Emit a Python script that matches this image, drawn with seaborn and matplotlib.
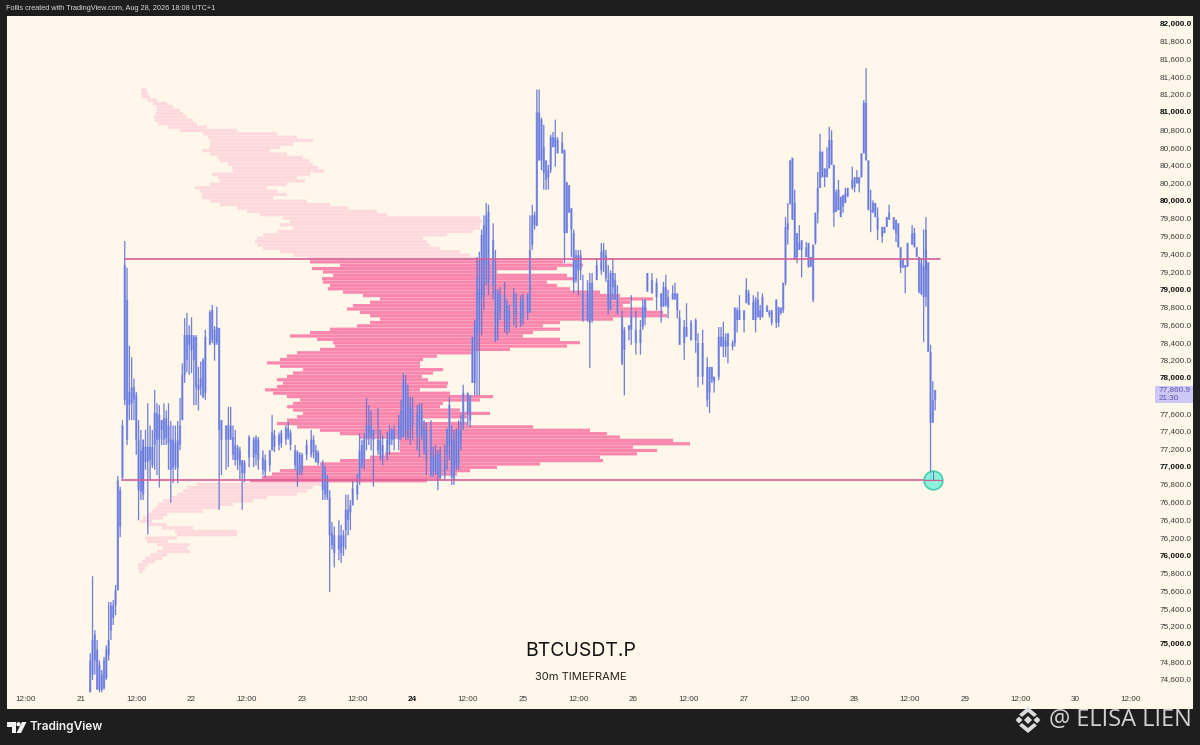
import numpy as np
import matplotlib
matplotlib.use("Agg")
import matplotlib.pyplot as plt
from matplotlib.patches import Polygon, Rectangle, Circle
import seaborn as sns

# 30m candles, slot 0 = day 21 00:00
bar_slot = [4,5,6,7,8,9,10,11,12,13,14,15,16,17,18,19,20,21,22,23,
    24,25,26,27,27,28,29,30,31,32,33,34,35,36,37,38,39,40,41,42,
    43,44,45,46,47,48,49,50,51,52,53,54,56,57,58,59,60,61,63,64,
    65,66,67,68,69,70,71,73,75,76,77,79,80,82,83,84,86,87,89,90,
    91,93,94,95,96,98,100,101,102,103,105,106,107,108,109,110,112,113,114,115,
    116,117,118,120,121,122,123,124,125,126,127,129,130,131,133,134,135,136,138,139,
    140,141,142,143,144,146,147,148,149,150,152,153,154,155,156,158,159,160,161,162,
    163,164,165,166,168,169,170,171,172,173,174,175,176,177,179,180,181,182,184,185,
    186,188,189,191,192,194,195,196,197,198,199,200,201,202,203,204,205,206,207,209,
    210,211,212,213,214,215,216,217,218,220,221,222,224,226,227,228,229,230,231,232,
    233,235,236,238,239,241,243,244,245,246,248,250,252,253,254,255,257,258,259,260,
    262,263,265,267,268,270,272,273,274,275,277,278,279,280,281,283,284,285,286,288,
    289,290,292,293,294,295,296,298,299,300,302,303,304,305,306,307,308,309,310,311,
    312,313,315,316,317,318,319,320,321,322,323,324,325,326,327,328,329,330,331,332,
    333,335,336,337,338,339,340,341,342,343,344,345,346,348,349,350,351,353,354,355,
    356,357,358,359,361,362,363,364,365,366,367,367,368,369,370,371]

bar_high = [74890,75760,75150,75040,74810,74700,74850,74980,75470,75470,75490,75660,76890,76770,77520,79540,79240,78360,78230,77990,
    77840,77520,77410,77300,77300,77410,77710,77460,77410,77860,77710,77690,77520,77710,77630,77710,77510,77460,77460,77510,
    77770,78160,78670,78730,78590,78680,78480,78480,78120,78180,78220,78540,78760,78820,78580,78800,78560,77520,77460,77670,
    77670,77460,77410,77240,77220,77070,77070,77350,77330,77350,77330,77180,77130,77180,77580,77410,77380,77410,77460,77500,
    77410,77240,77180,77160,77150,77300,77410,77350,77240,77180,77070,77010,76900,76730,76370,76320,76390,76340,76280,76680,
    76680,76620,76840,76920,77370,77300,77370,77770,77690,77630,77410,77660,77410,77350,77390,77460,77430,77460,77580,77750,
    78050,78030,77920,77780,77780,77690,77710,77710,77520,77490,77520,77220,77240,77180,77220,77240,77430,77780,77460,77410,
    77430,77520,77580,77920,77830,77800,78460,78650,79360,79420,79670,79830,79970,79950,79740,79440,78990,79020,79080,78880,
    78820,79010,78950,78930,78950,78950,79830,79950,79870,81250,81250,80930,80850,80450,80400,80740,80770,80910,80710,80770,
    80570,80210,80170,79910,79670,79440,79440,79440,79160,79100,79180,79180,79350,79520,79520,79440,79270,79210,79350,79180,
    79040,78760,78570,78590,78930,78760,78650,78880,78880,79180,79180,79120,78950,79080,79160,78990,79040,79070,78950,78760,
    78650,78840,78650,78670,78500,78540,78230,78120,78120,78010,78570,78570,78630,78500,78500,78420,78790,78790,78930,78760,
    79120,78990,78930,78910,78970,78820,78950,78820,78760,78760,78880,78800,78790,79070,79810,79970,80450,80480,80120,79630,
    79720,79550,79530,79520,79360,79500,79860,80320,80750,80550,80360,80600,80830,80790,80400,80120,80230,80040,80060,80140,
    80140,80380,80260,80340,80260,80530,81130,81490,80450,80120,80000,79970,79920,79700,79700,79810,79950,79810,79780,79740,
    79470,79330,79270,79520,79720,79690,79470,79360,79350,79670,79670,79810,79300,78370,77960,77860]

bar_low = [74450,74590,74650,74480,74450,74450,74480,74590,74810,75040,75210,75320,75600,76200,76840,77690,77240,77520,77520,77520,
    77130,76390,76620,76620,76730,76960,76230,76840,76980,76960,76900,76760,77240,77240,77240,76960,76590,76810,76960,76810,
    77180,77520,77940,78060,78030,78050,77690,77690,77630,77800,77770,77750,78370,78390,78190,78370,76510,76900,76960,76990,
    77300,77070,77010,76960,76840,76510,76820,76990,76990,77010,76960,76900,76870,76940,77180,77160,77180,77210,77240,77300,
    77180,76960,76770,76900,76900,77070,77100,77090,77040,77010,76620,76620,76620,75580,76060,75860,75940,75910,75990,76060,
    76220,76280,76560,76620,76790,76980,76960,77180,77240,77180,76770,77130,77070,77010,77070,77130,77240,77180,77180,77300,
    77330,77300,77300,77240,77300,77180,77100,77300,77130,76900,76880,76880,76900,76730,76840,76840,76960,77070,76790,76790,
    76960,76960,77180,77410,77460,77440,77940,77800,77800,77800,78480,78760,79040,78930,78880,78400,78420,78650,78510,78480,
    78510,78590,78560,78570,78590,78650,78730,79440,79670,79710,80450,80340,80120,80120,80120,80310,80600,80380,80530,80530,
    79290,79630,79860,79360,78950,79070,78930,79100,78630,78630,78110,78620,79100,79160,79190,79080,78710,78760,78880,78880,
    78710,78140,77800,78420,78370,78260,78260,78540,78590,78970,78950,78760,78620,78800,78800,78670,78880,78880,78670,78370,
    78200,78460,78420,78280,77890,77920,77670,77600,77940,77830,77970,78350,78230,78230,78160,78310,78350,78510,78650,78510,
    78840,78820,78650,78510,78680,78650,78680,78740,78680,78590,78560,78570,78710,78730,79040,79500,79950,79780,79330,79290,
    79440,79130,79360,79240,79250,78850,79500,79740,80140,80260,80150,80260,80360,80400,79700,79870,79890,79810,79860,79970,
    80040,80120,80090,80190,80090,80260,80530,80450,79890,79640,79860,79810,79550,79520,79630,79700,79780,79670,79530,79470,
    79180,79240,78950,79250,79500,79470,79360,78950,78930,78400,78800,79210,78290,76840,77490,77630]

bar_top = [74810,75040,75100,74930,74760,74650,74810,74930,75040,75430,75430,75600,76840,76730,77460,79270,78880,77840,77890,77890,
    77800,77300,77180,76960,77220,77220,77220,77220,77220,77600,77600,77580,77520,77540,77540,77460,77300,77300,77270,77300,
    77460,78030,78480,78480,78480,78480,78460,78460,77920,77990,78200,78460,78740,78760,78540,78570,78560,77520,77460,77460,
    77460,77330,77240,77210,77180,77070,77040,77330,77300,77320,77300,77100,77070,77180,77380,77350,77350,77380,77430,77430,
    77380,77180,77160,77130,77130,77240,77300,77300,77180,77160,77040,76960,76880,76650,76250,76220,76220,76220,76220,76510,
    76510,76560,76750,76790,77180,77240,77300,77460,77460,77460,77410,77300,77300,77240,77300,77390,77410,77410,77460,77630,
    77970,77940,77800,77670,77630,77580,77670,77630,77440,77410,77410,77100,77130,77130,77160,77070,77410,77690,77300,77300,
    77390,77410,77410,77830,77830,77800,78460,78590,79130,78990,79610,79720,79830,79870,79550,78990,78950,78950,78930,78820,
    78760,78950,78820,78880,78880,78930,79440,79830,79830,80990,80990,80910,80600,80450,80340,80710,80710,80710,80680,80650,
    80570,80200,80170,79910,79630,79380,79380,79380,78950,78950,79070,79070,79270,79420,79440,79380,79100,79180,79180,79100,
    78910,78680,78540,78590,78730,78540,78540,78800,78880,79180,79100,79070,78950,79020,79020,78910,78950,78950,78950,78680,
    78570,78570,78620,78650,78390,78390,78120,78120,78120,78010,78460,78460,78460,78420,78500,78390,78790,78760,78760,78760,
    78990,78950,78850,78880,78880,78760,78910,78800,78740,78760,78880,78790,78790,79070,79700,79740,80450,80480,79970,79630,
    79520,79550,79470,79520,79360,79500,79860,80140,80550,80550,80360,80360,80680,80680,80400,80090,80120,80040,80060,80080,
    80140,80230,80260,80260,80260,80530,81100,81100,80450,79890,79970,79970,79810,79700,79700,79810,79860,79810,79780,79740,
    79470,79330,79270,79520,79630,79630,79470,79360,79290,79250,79270,79440,79300,78290,77750,77860]

bar_bottom = [74450,74650,74810,74480,74480,74480,74500,74610,74870,75150,75290,75430,75600,76320,76870,77750,77300,77690,77710,77750,
    77300,76730,76710,76680,76960,77050,77050,77070,77010,77240,77300,77300,77410,77300,77320,77260,76960,76980,77010,76980,
    77240,77520,78030,78200,78370,78310,78200,77890,77860,77890,77780,77830,78370,78420,78370,78390,77410,77300,77300,77300,
    77300,77130,77070,77070,77010,76920,76920,77100,77100,77130,77070,76960,76940,77010,77180,77220,77240,77260,77300,77320,
    77240,77010,76920,76960,76940,77130,77130,77160,77050,77040,76730,76680,76650,76220,76110,76020,76060,76020,76090,76280,
    76390,76480,76560,76680,76840,77010,77070,77300,77350,77330,77300,77180,77130,77090,77160,77240,77300,77300,77300,77330,
    77330,77410,77330,77410,77460,77330,77460,77350,77180,77070,76900,76940,76940,76900,76870,76900,77130,77240,76880,76840,
    77010,77010,77270,77460,77600,77520,77940,77940,78480,78540,78880,78930,79270,79070,79040,78420,78590,78740,78650,78540,
    78650,78800,78710,78620,78670,78730,78740,79500,79720,79710,80450,80450,80310,80230,80260,80340,80600,80600,80530,80530,
    79630,79630,79860,79670,79070,79100,79210,79210,78650,78650,78620,78650,79100,79210,79330,79120,78790,78760,79020,78880,
    78730,78160,78310,78540,78540,78390,78390,78570,78680,78970,78950,78910,78800,78800,78820,78790,78880,78880,78760,78370,
    78390,78460,78420,78420,78010,78010,77750,77830,77970,77950,78010,78350,78350,78350,78350,78350,78390,78650,78650,78650,
    78840,78820,78650,78650,78680,78680,78680,78740,78710,78620,78620,78620,78730,78760,79070,79670,79970,79780,79330,79360,
    79440,79440,79360,79250,79250,78880,79520,79860,80140,80260,80260,80260,80360,80400,79860,79870,79890,79810,79930,79970,
    80040,80140,80150,80190,80190,80260,80530,80450,79890,79870,79860,79810,79670,79590,79630,79700,79780,79670,79630,79470,
    79240,79240,79240,79250,79500,79470,79360,78970,78950,78910,78910,79210,78290,77490,77490,77750]

# volume profile, volumes in rows of 38 USD
pale_top_levels = [81244,81206,81168,81130,81092,81054,81016,80978,80940,80902,80864,80826,80788,80750,80712,80674,80636,
    80598,80560,80522,80484,80446,80408,80370,80332,80294,80256,80218,80180,80142,80104,80066,80028,79990,
    79952,79914,79876,79838,79800,79762,79724,79686,79648,79610,79572,79534,79496,79458,79420,79382,79344]
pale_top_left = [60,60,61,66,72,75,76,75,73,74,77,87,99,122,127,129,129,128,121,129,136,139,147,151,152,131,137,139,129,114,
    119,121,121,129,139,156,166,179,202,209,199,212,196,182,176,174,176,182,199,212,226]
pale_top_right = [66,67,69,76,86,92,99,102,106,112,116,126,156,196,216,232,212,199,189,206,222,229,232,237,243,229,216,224,206,186,
    196,206,192,226,249,267,296,306,399,401,399,399,392,366,342,346,349,359,379,389,396]

value_levels = [79306,79268,79230,79192,79154,79116,79078,79040,79002,78964,78926,78888,78850,78812,78774,78736,78698,78660,
    78622,78584,78546,78508,78470,78432,78394,78356,78318,78280,78242,78204,78166,78128,78090,78052,78014,77976,
    77938,77900,77862,77824,77786,77748,77710,77672,77634,77596,77558,77520,77482,77444,77406,77368,77330,77292,
    77254,77216,77178,77140,77102,77064,77026,76988,76950,76912,76874,76836]
value_left = [229,259,231,242,252,241,242,249,247,262,282,299,289,272,266,279,289,299,289,276,249,229,209,236,252,254,239,216,206,199,
    186,199,222,212,206,196,202,196,184,192,206,219,212,206,212,222,216,206,196,216,239,259,279,319,319,319,319,304,289,259,
    239,219,199,191,181,169]
value_right = [482,502,476,416,486,496,466,476,489,519,539,572,549,542,566,582,586,532,479,462,479,452,442,479,499,486,429,392,356,342,
    339,339,362,352,341,347,367,366,339,369,412,399,362,359,379,409,386,339,386,452,509,526,539,592,609,552,576,556,519,522,
    459,416,389,376,359,346]

pale_low_levels = [76798,76760,76722,76684,76646,76608,76570,76532,76494,76456,76418,76380,76342,76304,76266,76228,76190,76152,
    76114,76076,76038,76000,75962,75924,75886,75848,75810]
pale_low_left = [116,106,102,96,91,82,77,74,71,67,62,59,66,81,94,96,64,66,76,82,76,69,64,61,57,57,58]
pale_low_right = [242,232,226,216,186,172,152,139,122,86,82,71,86,112,156,156,96,87,109,106,109,86,81,74,67,64,62]

level_high = 79338
level_low = 76845
last_price = 77860.9

price_ticks = [82000,81800,81600,81400,81200,81000,80800,80600,80400,80200,80000,79800,79600,79400,79200,79000,78800,78600,
    78400,78200,78000,77600,77400,77200,77000,76800,76600,76400,76200,76000,75800,75600,75400,75200,75000,74800,74600]
time_ticks = [-24,0,24,48,72,96,120,144,168,192,216,240,264,288,312,336,360,384,408,432,456]
time_labels = ["12:00","21","12:00","22","12:00","23","12:00","24","12:00","25","12:00","26","12:00","27","12:00","28",
    "12:00","29","12:00","30","12:00"]

CREAM = "#FFF8EA"
DARK = "#1E1E1E"
WICK = "#6374D6"
BODY = "#8F9FF0"
HOT = "#FA86AD"
PALE = "#FDD9DD"
LINE = "#D45F98"

sns.set_theme(style="white")
plt.rcParams["font.family"] = ["Liberation Sans", "DejaVu Sans"]

fig = plt.figure(figsize=(12, 7.45), dpi=100, facecolor=DARK)
rect = [7 / 1200, (745 - 709) / 745, 1186 / 1200, 693 / 745]
ax = fig.add_axes(rect)
vol_ax = ax.twiny()
ax.set_zorder(2)
vol_ax.set_zorder(1)
ax.patch.set_visible(False)
vol_ax.patch.set_facecolor(CREAM)
vol_ax.patch.set_visible(True)

ax.set_xlim(-32.15, 483)
ax.set_ylim(74262, 82079)
vol_ax.set_xlim(-74, 1112)
vol_ax.xaxis.set_visible(False)
for a in (ax, vol_ax):
    for s in a.spines.values():
        s.set_visible(False)

# volume profile, no pixel snapping so the rows stay soft
for lv, lf, rt, col in [(pale_top_levels, pale_top_left, pale_top_right, PALE),
                        (value_levels, value_left, value_right, HOT),
                        (pale_low_levels, pale_low_left, pale_low_right, PALE)]:
    rows = vol_ax.barh(lv, np.subtract(rt, lf), left=lf, height=36, color=col, linewidth=0)
    for r in rows:
        r.set_snap(False)

# candles
bodies = ax.bar(bar_slot, np.subtract(bar_top, bar_bottom), bottom=bar_bottom, width=1.0, color=BODY, linewidth=0, alpha=0.9, zorder=2)
for r in bodies:
    r.set_snap(False)
wicks = ax.vlines(bar_slot, bar_low, bar_high, color=WICK, linewidth=0.95, alpha=0.9, zorder=3)
wicks.set_snap(False)

# key levels
sns.lineplot(x=[19, 373], y=[level_high, level_high], ax=ax, color=LINE, linewidth=1.2, zorder=4, errorbar=None)
sns.lineplot(x=[18, 373], y=[level_low, level_low], ax=ax, color=LINE, linewidth=1.2, zorder=4, errorbar=None)
sns.scatterplot(x=[370], y=[level_low], ax=ax, s=180, color="#7BF0D8", edgecolor="#2CC8A8", linewidth=1.2, alpha=0.85, zorder=5)
ax.vlines([370], [level_low], [level_low + 100], color=WICK, linewidth=0.75, zorder=6)
ax.plot([366, 374], [level_low, level_low], color=LINE, linewidth=0.8, zorder=6)

# axes
ax.yaxis.tick_right()
ax.set_yticks(price_ticks)
ax.set_yticklabels([f"{p:,.1f}" for p in price_ticks])
ax.set_xticks(time_ticks)
ax.set_xticklabels(time_labels)
ax.tick_params(axis="y", direction="in", length=0, pad=-23.8, labelsize=5.9, labelcolor="#3A3A3A")
ax.tick_params(axis="x", direction="in", length=0, pad=-9.4, labelsize=5.9, labelcolor="#3A3A3A")
for p, t in zip(price_ticks, ax.get_yticklabels()):
    if p % 1000 == 0:
        t.set_fontweight("bold")
        t.set_color("#111111")
for t in ax.get_xticklabels():
    if t.get_text() == "24":
        t.set_fontweight("bold")
        t.set_color("#111111")
ax.set_xlabel("")
ax.set_ylabel("")

# last price tag
ax.add_patch(Rectangle((466.5, 77713), 16.5, 192, facecolor="#CEC8F6", edgecolor="none", zorder=7, clip_on=False))
ax.text(468, 77862, f"{last_price:,.1f}", fontsize=5.9, color="#5C50B0", va="center", zorder=8)
ax.text(468, 77762, "21:30", fontsize=5.9, color="#5C50B0", va="center", zorder=8)

# captions
ax.text(0.4835, 0.083, "BTCUSDT.P", transform=ax.transAxes, ha="center", va="center", fontsize=14, color="#111111",
        family=["Inter", "Liberation Sans"], zorder=8)
ax.text(0.4835, 0.0455, "30m TIMEFRAME", transform=ax.transAxes, ha="center", va="center", fontsize=8, color="#222222",
        family=["Inter", "Liberation Sans"], zorder=8)

# frame decorations drawn in pixel space
deco = fig.add_axes([0, 0, 1, 1], facecolor="none")
deco.set_xlim(0, 1200)
deco.set_ylim(745, 0)
deco.axis("off")
deco.set_zorder(5)
deco.text(6, 8, "Follis created with TradingView.com, Aug 28, 2026 18:08 UTC+1", fontsize=5.3, color="#D8D8D8", va="center")
deco.text(30, 727, "TradingView", fontsize=8.6, color="#F2F2F2", va="center", fontweight="semibold", family=["Inter", "Liberation Sans"])
for pts in ([(7, 722), (16, 722), (16, 733), (11.5, 733), (11.5, 726.5), (7, 726.5)],
            [(22, 722), (26.5, 722), (21, 733), (16.5, 733)]):
    deco.add_patch(Polygon(pts, closed=True, facecolor="#F2F2F2", edgecolor="none"))
deco.add_patch(Circle((18.5, 724.2), 2.1, facecolor="#F2F2F2", edgecolor="none"))

GREY = "#DCDCDC"
for pts in ([(1028, 716), (1032, 720), (1028, 724), (1024, 720)],
            [(1019, 716.5), (1022.5, 720), (1019, 723.5), (1015.5, 720)],
            [(1037, 716.5), (1040.5, 720), (1037, 723.5), (1033.5, 720)],
            [(1028, 707), (1037, 714.5), (1034, 717), (1028, 712), (1022, 717), (1019, 714.5)],
            [(1028, 733), (1037, 725.5), (1034, 723), (1028, 728), (1022, 723), (1019, 725.5)]):
    deco.add_patch(Polygon(pts, closed=True, facecolor=GREY, edgecolor="none"))
deco.text(1192, 720, "@ ELISA LIEN", fontsize=17, color="#D2D2D2", ha="right", va="center", family=["Open Sans", "Liberation Sans"])

fig.savefig("out.png", dpi=100, facecolor=DARK)
